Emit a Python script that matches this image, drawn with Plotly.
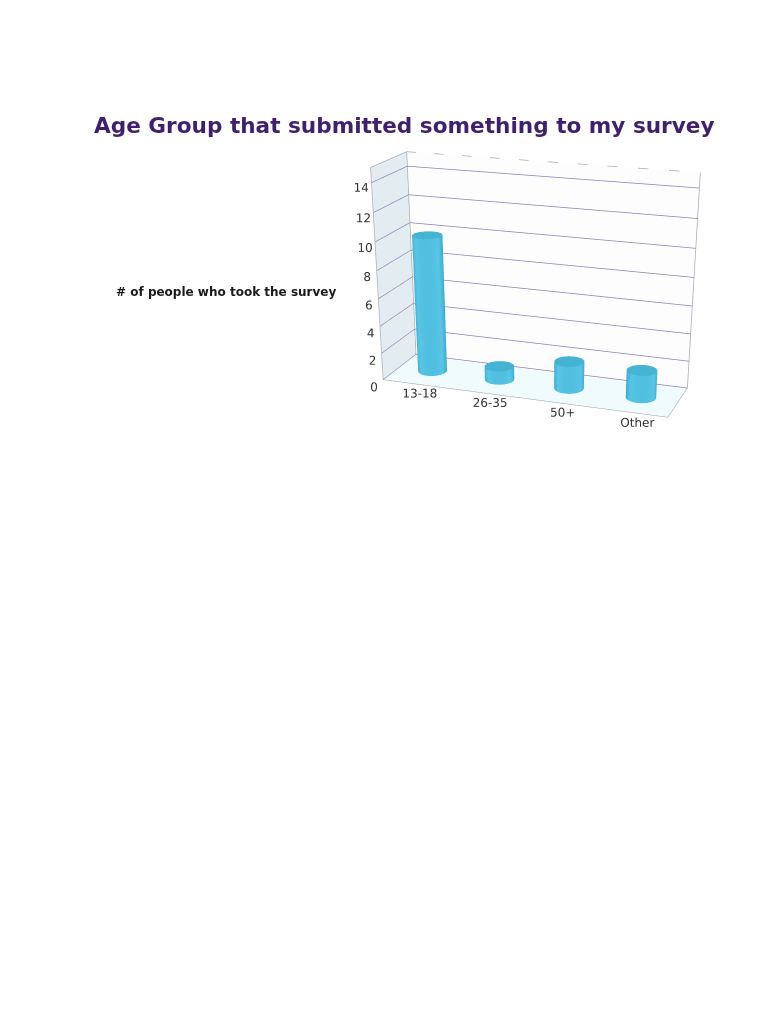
import numpy as np
import plotly.graph_objects as go

categories = ["13-18", "26-35", "50+", "Other"]
values = [10, 1, 2, 2]
z_ticks = [0, 2, 4, 6, 8, 10, 12, 14]
title_text = "Age Group that submitted something to my survey"
ytitle_text = "# of people who took the survey"

W, H = 768, 1024
Z_MAX = 15
X_MAX = len(categories)
RX, RY = 0.2, 0.188

# camera: perspective view, shifted so the box sits above the scene centre
AZ, EL = np.radians(19.5), np.radians(27.0)
DIST, SHIFT = 5.65, 1.055
d = np.array([np.sin(AZ) * np.cos(EL), -np.cos(AZ) * np.cos(EL), np.sin(EL)])
u = np.array([-np.sin(AZ) * np.sin(EL), np.cos(AZ) * np.sin(EL), np.cos(EL)])
C = -SHIFT * u
E = C + DIST * d

theta = np.linspace(0, 2 * np.pi, 73)
fig = go.Figure()
for i, v in enumerate(values):
    cx, cy = i + 0.5, 0.5
    tt, zz = np.meshgrid(theta, [0, v])
    sx = cx + RX * np.cos(tt)
    sy = cy + RY * np.sin(tt)
    shade = np.cos(tt + np.pi / 2 - AZ)  # facing camera = bright
    fig.add_trace(go.Surface(x=sx, y=sy, z=zz, surfacecolor=(shade + 1) / 2,
                             colorscale=[[0, "#35a2c6"], [0.5, "#35a2c6"], [0.85, "#58c6e6"], [1, "#50bfe0"]],
                             cmin=0.0, cmax=1.0, showscale=False,
                             lighting=dict(ambient=1, diffuse=0, specular=0, fresnel=0),
                             hoverinfo="skip"))
    rr, tc = np.meshgrid([0, 1], theta)
    fig.add_trace(go.Surface(x=cx + RX * rr * np.cos(tc), y=cy + RY * rr * np.sin(tc),
                             z=np.full(rr.shape, v), surfacecolor=np.zeros(rr.shape),
                             colorscale=[[0, "#46b3d4"], [1, "#46b3d4"]], showscale=False,
                             lighting=dict(ambient=1, diffuse=0, specular=0, fresnel=0),
                             hoverinfo="skip"))

# dashed top of the back wall
fig.add_trace(go.Scatter3d(x=[0, X_MAX], y=[1, 1], z=[Z_MAX, Z_MAX], mode="lines",
                           line=dict(color="#aaaaaa", width=1.5, dash="longdash"),
                           hoverinfo="skip", showlegend=False))
# remaining frame edges
for xs, ys, zs in [([0, 0], [0, 1], [Z_MAX, Z_MAX]),
                   ([0, 0], [1, 1], [0, Z_MAX]),
                   ([X_MAX, X_MAX], [1, 1], [0, Z_MAX]),
                   ([X_MAX, X_MAX], [0, 1], [0, 0]),
                   ([0, 0], [0, 0], [0, Z_MAX])]:
    fig.add_trace(go.Scatter3d(x=xs, y=ys, z=zs, mode="lines",
                               line=dict(color="#a8a8b0", width=1.5),
                               hoverinfo="skip", showlegend=False))

axis_font = dict(family="DejaVu Sans", size=12, color="#333333")
fig.update_layout(
    width=W, height=H, margin=dict(l=0, r=0, t=0, b=0),
    paper_bgcolor="#ffffff", showlegend=False,
    scene=dict(
        domain=dict(x=[300 / W, 768 / W], y=[0, 1]),
        aspectmode="manual", aspectratio=dict(x=1.4, y=0.38, z=1),
        camera=dict(eye=dict(x=E[0], y=E[1], z=E[2]),
                    center=dict(x=C[0], y=C[1], z=C[2]), up=dict(x=0, y=0, z=1),
                    projection=dict(type="perspective")),
        xaxis=dict(range=[0, X_MAX], tickvals=[i + 0.68 for i in range(len(categories))],
                   ticktext=categories, title=dict(text=""), showgrid=False, zeroline=False,
                   showbackground=True, backgroundcolor="#e3ecf1", showline=True,
                   linecolor="#9a9aa4", ticks="", tickangle=0, tickfont=axis_font, showspikes=False),
        yaxis=dict(range=[0, 1], tickvals=[], title=dict(text=""), showgrid=False, zeroline=False,
                   showbackground=True, backgroundcolor="#fdfdfe", showline=True,
                   linecolor="#c4c4cc", ticks="", showticklabels=False, showspikes=False),
        zaxis=dict(range=[0, Z_MAX], tickvals=z_ticks, title=dict(text=""), showgrid=True,
                   gridcolor="#8f80b4", gridwidth=1.5, zeroline=False,
                   showbackground=True, backgroundcolor="#f0fbfd", showline=True,
                   linecolor="#b4b4bc", ticks="", tickangle=0, tickfont=axis_font, showspikes=False),
    ),
    annotations=[
        dict(text="<b>%s</b>" % title_text, x=404 / W, y=1 - 125 / H, xref="paper", yref="paper",
             xanchor="center", yanchor="middle", showarrow=False,
             font=dict(family="DejaVu Sans", size=21.6, color="#3f1f6e")),
        dict(text="<b>%s</b>" % ytitle_text, x=226 / W, y=1 - 292 / H, xref="paper", yref="paper",
             xanchor="center", yanchor="middle", showarrow=False,
             font=dict(family="DejaVu Sans", size=12, color="#1a1a1a")),
    ],
)
fig.write_html("out.html", config={"displayModeBar": False},
               post_script="document.body.style.margin='0';")
